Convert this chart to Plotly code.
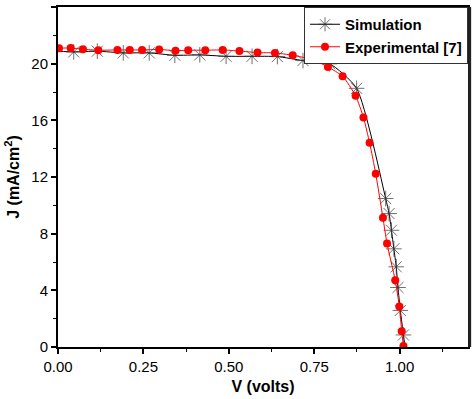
import plotly.graph_objects as go

# Simulation (black, asterisks) - first and last points are line ends (no marker)
sim_v = [0.0, 0.046, 0.115, 0.191, 0.267, 0.342, 0.415, 0.492, 0.568, 0.642, 0.717, 0.795,
         0.874, 0.959, 0.969, 0.976, 0.983, 0.990, 0.995, 1.002, 1.011, 1.016]
sim_j = [20.88, 20.83, 20.88, 20.76, 20.76, 20.59, 20.62, 20.52, 20.52, 20.50, 20.22, 19.99,
         18.26, 10.48, 9.42, 8.24, 6.93, 5.66, 4.20, 2.58, 0.85, 0.0]
sim_marker_size = [0] + [13] * 20 + [0]

# Experimental [7] (red dots)
exp_v = [0.003, 0.037, 0.073, 0.118, 0.174, 0.210, 0.246, 0.296, 0.344, 0.381, 0.431, 0.482,
         0.531, 0.584, 0.635, 0.687, 0.744, 0.790, 0.833, 0.871, 0.894, 0.912, 0.930, 0.951,
         0.963, 0.987, 0.999, 1.006, 1.011]
exp_j = [21.09, 21.11, 21.02, 20.95, 20.97, 20.97, 20.97, 21.00, 20.92, 20.95, 20.95, 20.97,
         20.89, 20.78, 20.76, 20.59, 20.29, 19.77, 19.11, 17.73, 16.20, 14.41, 12.23, 9.12,
         7.30, 4.71, 2.86, 1.12, 0.07]

x_ticks = [0.0, 0.25, 0.5, 0.75, 1.0]
y_ticks = [0, 4, 8, 12, 16, 20, 24]

FONT = "Arial, Liberation Sans, sans-serif"

fig = go.Figure()
fig.add_trace(go.Scatter(
    x=sim_v, y=sim_j, mode="lines+markers", name="Simulation",
    line=dict(color="black", width=1, shape="spline", smoothing=0.6),
    marker=dict(symbol="asterisk-open", size=sim_marker_size, color="#333333",
                line=dict(color="#333333", width=1)),
))
fig.add_trace(go.Scatter(
    x=exp_v, y=exp_j, mode="lines+markers", name="Experimental [7]",
    line=dict(color="#ff0000", width=1, shape="spline", smoothing=0.6),
    marker=dict(symbol="circle", size=8, color="#ff0000"),
))

axis_common = dict(
    showline=True, linecolor="black", linewidth=2, mirror=True,
    ticks="outside", ticklen=5, tickwidth=1.5, tickcolor="black",
    showgrid=False, zeroline=False,
    tickfont=dict(family=FONT, size=15, color="black"),
)

fig.update_xaxes(
    range=[0, 1.2], tickvals=x_ticks, ticktext=[f"{v:.2f}" for v in x_ticks],
    minor=dict(dtick=0.125, ticks="outside", ticklen=3, tickcolor="black", tickwidth=1.2),
    title=dict(text="<b>V (volts)</b>", standoff=7,
               font=dict(family=FONT, size=16, color="black")),
    **axis_common,
)
fig.update_yaxes(
    range=[0, 24], tickvals=y_ticks, ticktext=[str(v) for v in y_ticks],
    minor=dict(dtick=2, ticks="outside", ticklen=3, tickcolor="black", tickwidth=1.2),
    title=dict(text="<b>J (mA/cm<sup>2</sup>)</b>", standoff=8,
               font=dict(family=FONT, size=16, color="black")),
    **axis_common,
)

fig.add_shape(type="line", xref="paper", yref="paper", x0=1.004, x1=1.004, y0=0, y1=1,
              line=dict(color="#222222", width=3))

fig.update_layout(
    width=474, height=399,
    margin=dict(l=58, r=4, t=7, b=52),
    plot_bgcolor="white", paper_bgcolor="white",
    showlegend=True,
    legend=dict(
        x=1.0, y=1.0, xanchor="right", yanchor="top",
        bgcolor="white", bordercolor="#333333", borderwidth=1,
        font=dict(family=FONT, size=15, color="black", weight="bold"),
        tracegroupgap=0, itemwidth=30,
    ),
)

fig.write_html("out.html", config={"displayModeBar": False},
               post_script="document.body.style.margin='0';")
